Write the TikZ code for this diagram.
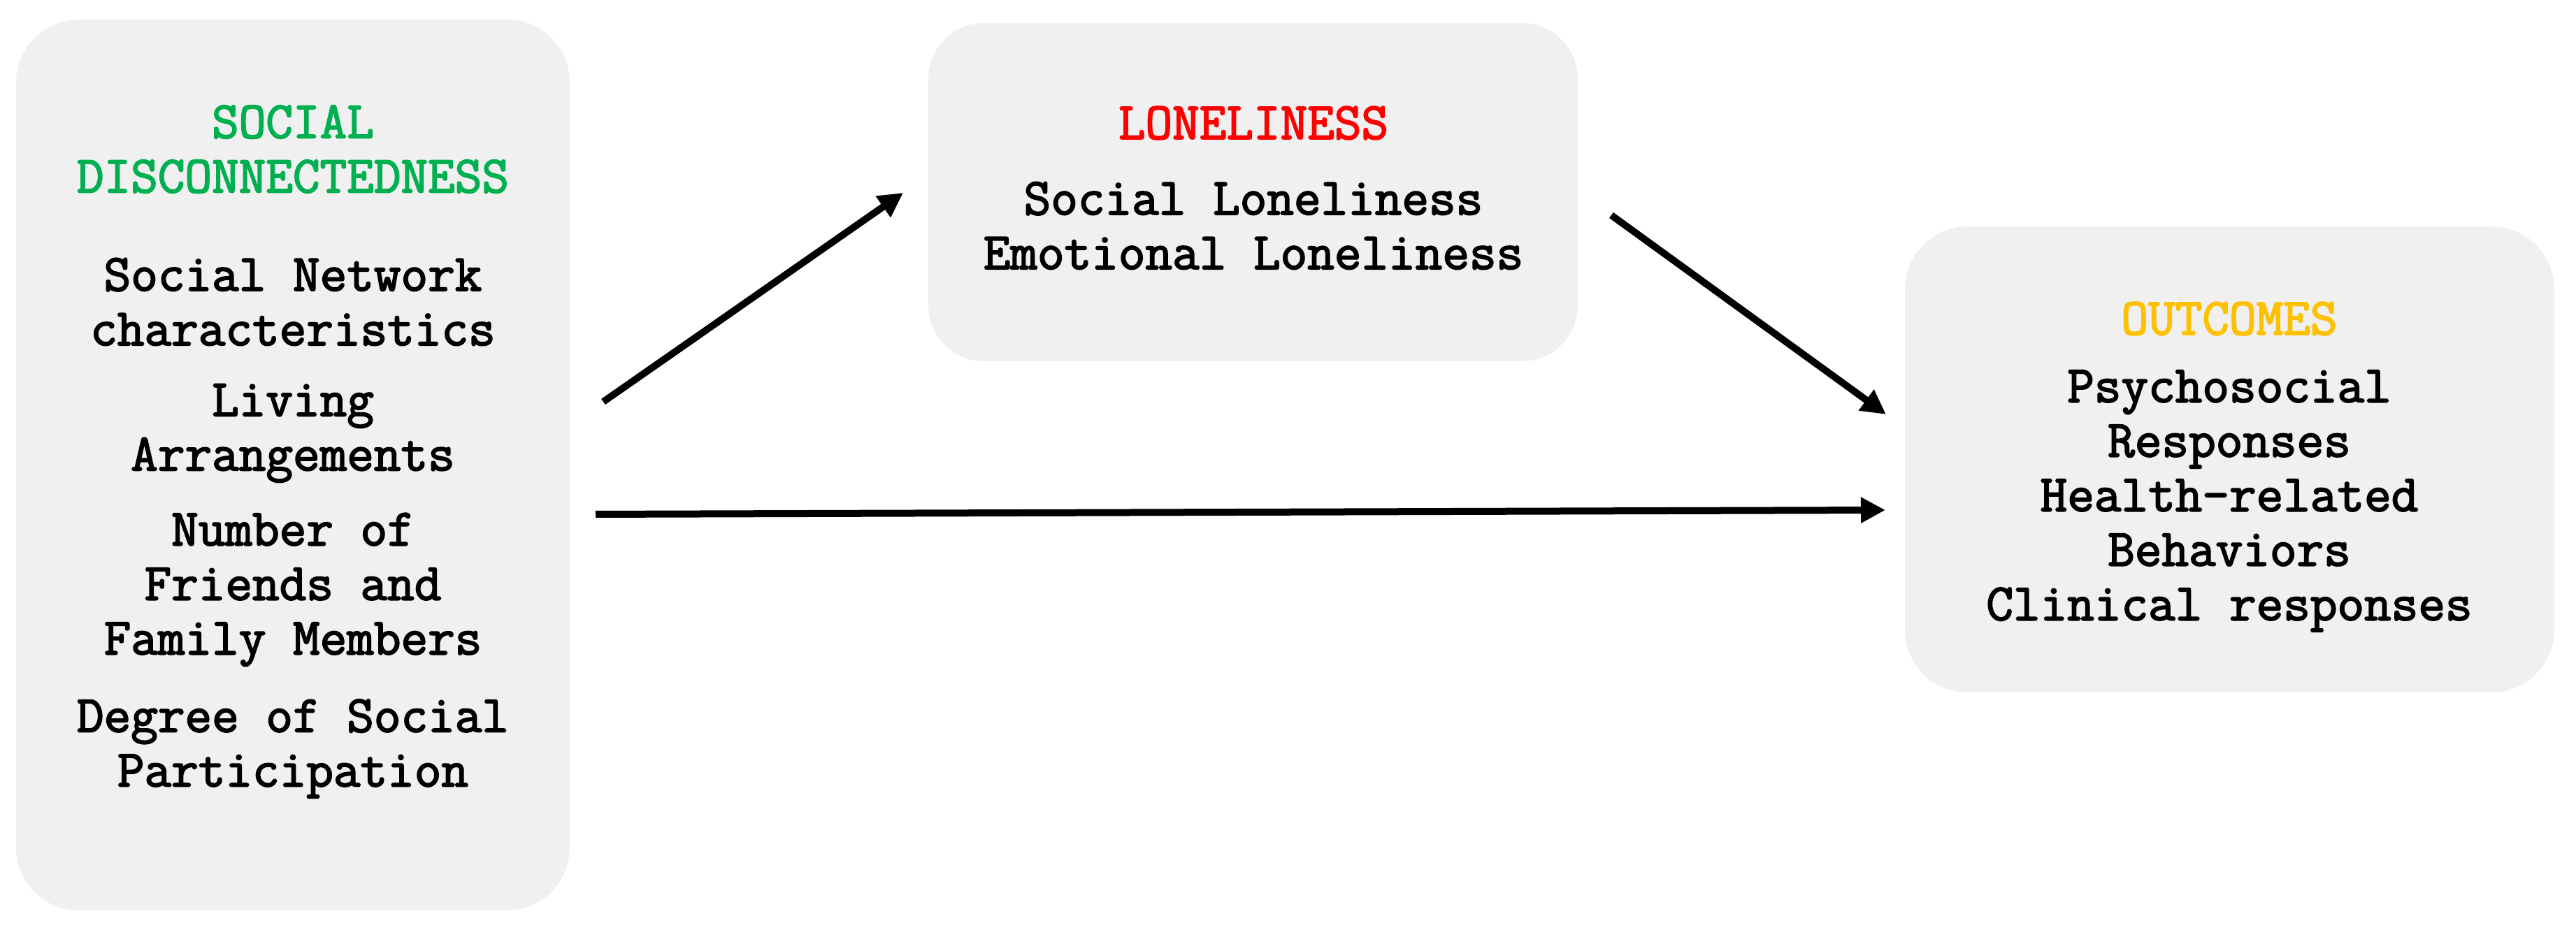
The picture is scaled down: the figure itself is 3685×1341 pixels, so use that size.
\documentclass[tikz,border=0pt]{standalone}
\usepackage{fontspec}
\newfontfamily\cmono[FakeBold=2.5]{Latin Modern Mono}
\usetikzlibrary{arrows.meta}
\definecolor{boxgray}{RGB}{240,240,240}
\definecolor{tgreen}{RGB}{0,176,80}
\definecolor{tred}{RGB}{255,0,0}
\definecolor{tgold}{RGB}{255,192,0}
\begin{document}
\begin{tikzpicture}[x=0.2pt,y=-0.2pt,
  panel/.style={fill=boxgray, draw=none, rounded corners=18pt, inner sep=0pt},
  txt/.style={font=\fontsize{15}{15.6}\selectfont\cmono, align=center, inner sep=0pt},
  conn/.style={line width=2pt, -{Triangle[length=7pt,width=7pt]}}]
\useasboundingbox (0,0) rectangle (3685,1341);
\fill[white] (0,0) rectangle (3685,1341);
% panels
\node[panel, minimum width=158.4pt, minimum height=255pt] (sd) at (419,665.5) {};
\node[panel, minimum width=185.8pt, minimum height=96.8pt, rounded corners=16pt] (lo) at (1792.5,275) {};
\node[panel, minimum width=185.8pt, minimum height=133.4pt] (oc) at (3189.5,657.5) {};
% texts
\node[txt, text=tgreen] (sdt) at (419,213.5) {SOCIAL\\DISCONNECTEDNESS};
\node[txt] (sd1) at (419,432) {Social Network\\characteristics};
\node[txt] (sd2) at (419,620) {Living\\Arrangements};
\node[txt] (sd3) at (419,844) {Number of\\Friends and\\Family Members};
\node[txt] (sd4) at (419,1071.5) {Degree of Social\\Participation};
\node[txt, text=tred] (lot) at (1793,176) {LONELINESS};
\node[txt] (lo1) at (1793,323) {Social Loneliness\\Emotional Loneliness};
\node[txt, text=tgold] (oct) at (3189,456) {OUTCOMES};
\node[txt] (oc1) at (3189,717) {Psychosocial\\Responses\\Health-related\\Behaviors\\Clinical responses};
% connector end points
\coordinate (a1s) at (863,575);
\coordinate (a1e) at (1292,276);
\coordinate (a2s) at (2305,308);
\coordinate (a2e) at (2698,593);
\coordinate (a3s) at (852,736);
\coordinate (a3e) at (2697,730);
\draw[conn] (a1s) -- (a1e);
\draw[conn] (a2s) -- (a2e);
\draw[conn] (a3s) -- (a3e);
\end{tikzpicture}
\end{document}
